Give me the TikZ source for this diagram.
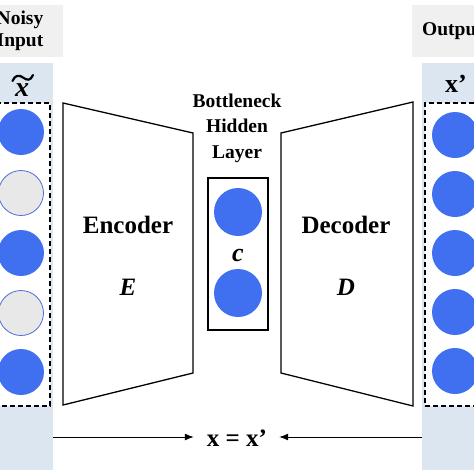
\documentclass[tikz,border=0pt]{standalone}
\usepackage{fontspec}
\setmainfont{Liberation Serif}
\usetikzlibrary{arrows.meta}
\definecolor{cblue}{RGB}{64,112,240}
\definecolor{stripc}{RGB}{220,230,241}
\definecolor{lgrey}{RGB}{240,240,240}
\definecolor{cgrey}{RGB}{232,232,232}
\definecolor{cedge}{RGB}{80,110,215}
\begin{document}
\begin{tikzpicture}[x=1pt,y=-1pt,
  box/.style={draw=none,inner sep=0pt,outer sep=0pt},
  dbox/.style={draw=black,line width=1.6pt,dash pattern=on 5pt off 3pt,inner sep=0pt,outer sep=0pt},
  fullc/.style={circle,fill=cblue,draw=none,inner sep=0pt,minimum size=46pt},
  emptyc/.style={circle,fill=cgrey,draw=cedge,line width=0.8pt,inner sep=0pt,minimum size=45pt},
  lbl/.style={font=\fontsize{19.5}{23}\selectfont\bfseries,align=center,inner sep=0pt},
  big/.style={font=\fontsize{25}{30}\selectfont\bfseries,inner sep=0pt},
  trap/.style={draw=black,line width=1.3pt,line join=miter},
  arr/.style={-{Latex[length=9pt,width=7pt]},line width=0.9pt}
]
\useasboundingbox (0,0) rectangle (474,474);
\clip (0,0) rectangle (474,474);
\fill[white] (0,0) rectangle (474,474);

% left column
\node[box,fill=lgrey,minimum width=73pt,minimum height=52pt] (inbox) at (26.5,31) {};
\node[lbl] (intext) at (20,31) {Noisy\\[-1pt]Input};
\node[box,fill=stripc,minimum width=63pt,minimum height=407pt] (lstrip) at (21.5,266.5) {};
\node[font=\fontsize{28}{30}\selectfont\bfseries\itshape,inner sep=0pt] (xt) at (22,90) {x};
\draw[line width=2.2pt,line cap=round] (12.5,81) .. controls (15,75) and (19,74.5) .. (23,77.5) .. controls (27,80.5) and (30.5,81) .. (33,75);
\node[dbox,fill=white,minimum width=64pt,minimum height=303pt] (ldash) at (18,254.5) {};
\node[fullc] (l1) at (21,132) {};
\node[emptyc] (l2) at (21,193) {};
\node[fullc] (l3) at (21,253) {};
\node[emptyc] (l4) at (21,313) {};
\node[fullc] (l5) at (21,372) {};

% right column
\node[box,fill=lgrey,minimum width=72pt,minimum height=52pt] (outbox) at (448,31) {};
\node[lbl,anchor=west] (outtext) at (422,31) {Output};
\node[box,fill=stripc,minimum width=62pt,minimum height=407pt] (rstrip) at (453,266.5) {};
\node[font=\fontsize{26}{30}\selectfont\bfseries,inner sep=0pt] (xp) at (456,84) {x’};
\node[dbox,fill=white,minimum width=65pt,minimum height=303pt] (rdash) at (457.5,254.5) {};
\node[fullc] (r1) at (455,135) {};
\node[fullc] (r2) at (455,194) {};
\node[fullc] (r3) at (455,253) {};
\node[fullc] (r4) at (455,312) {};
\node[fullc] (r5) at (455,371) {};

% encoder
\coordinate (e1) at (63,103);
\coordinate (e2) at (193,133);
\coordinate (e3) at (193,373);
\coordinate (e4) at (63,405);
\draw[trap] (e1) -- (e2) -- (e3) -- (e4) -- cycle;
\node[big] (enc) at (128,225) {Encoder};
\node[big,font=\fontsize{25}{30}\selectfont\bfseries\itshape] (E) at (128,287) {E};

% decoder
\coordinate (d1) at (281,133);
\coordinate (d2) at (413,102);
\coordinate (d3) at (413,406);
\coordinate (d4) at (281,373);
\draw[trap] (d1) -- (d2) -- (d3) -- (d4) -- cycle;
\node[big] (dec) at (346,225) {Decoder};
\node[big,font=\fontsize{25}{30}\selectfont\bfseries\itshape] (D) at (346,287) {D};

% bottleneck
\node[font=\fontsize{19.5}{25.5}\selectfont\bfseries,align=center,inner sep=0pt] (bn) at (237,128) {Bottleneck\\Hidden\\Layer};
\node[draw=black,line width=1.5pt,inner sep=0pt,minimum width=60pt,minimum height=152pt] (bbox) at (238,254) {};
\node[fullc,minimum size=48pt] (b1) at (238,212) {};
\node[fullc,minimum size=48pt] (b2) at (238,293) {};
\node[big,font=\fontsize{26}{30}\selectfont\bfseries\itshape] (c) at (238,255) {c};

% equality
\node[big,inner sep=0pt] (eq) at (237,438) {x = x’};
\coordinate (la) at (53,437);
\coordinate (ra) at (422,437);
\draw[arr] (la) -- ([xshift=-13pt]eq.west |- la);
\draw[arr] (ra) -- ([xshift=12pt]eq.east |- ra);
\end{tikzpicture}
\end{document}
